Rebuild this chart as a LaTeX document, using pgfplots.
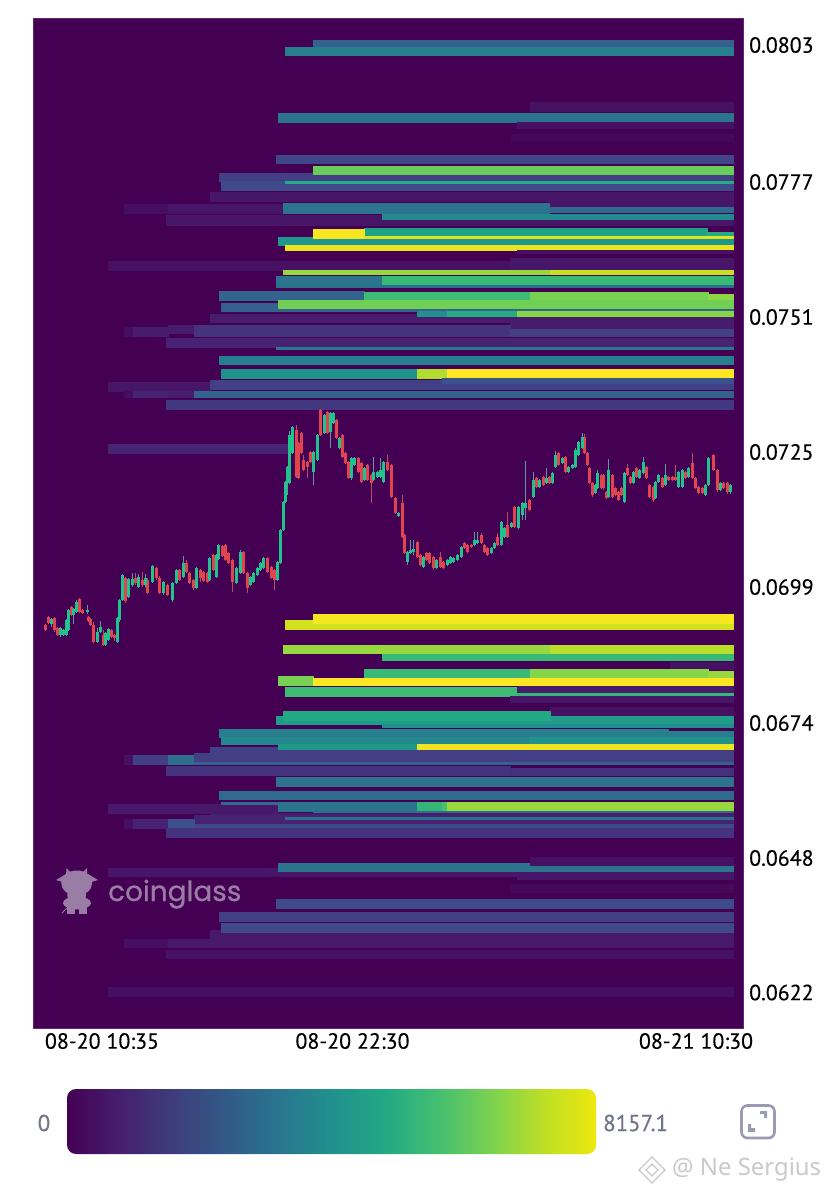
\documentclass[border=0pt]{standalone}
\usepackage{fontspec}
\setmainfont{PT Sans}
\newfontfamily\din{PT Sans}[FakeBold=0.35]
\newfontfamily\pop{Poppins}[FakeBold=0.7]
\newfontfamily\lib{Noto Sans}
\usepackage{pgfplots}
\usepackage{pgfplotstable}
\usepgfplotslibrary{colormaps}
\pgfplotsset{compat=1.18}
\definecolor{bgc}{HTML}{440154}
\definecolor{upc}{HTML}{1FC48C}
\definecolor{dnc}{HTML}{E0454F}
\definecolor{upw}{HTML}{5C9AA0}
\definecolor{dnw}{HTML}{B05060}
\definecolor{logoc}{HTML}{9A7DA4}
\definecolor{grayt}{HTML}{70748A}
\definecolor{iconc}{HTML}{9A9BB0}
\definecolor{wm}{HTML}{C9C9CE}
\pgfdeclarehorizontalshading{vir}{100bp}{color(0bp)=(bgc);color(25bp)=(bgc);
 rgb(30bp)=(0.275,0.120,0.430);rgb(35bp)=(0.240,0.240,0.480);rgb(40bp)=(0.195,0.350,0.530);
 rgb(45bp)=(0.160,0.460,0.557);rgb(50bp)=(0.129,0.565,0.553);rgb(55bp)=(0.133,0.659,0.518);
 rgb(60bp)=(0.263,0.749,0.443);rgb(65bp)=(0.478,0.820,0.318);rgb(70bp)=(0.741,0.875,0.149);
 rgb(75bp)=(0.93,0.91,0.05);rgb(100bp)=(0.93,0.91,0.05)}
% one heat cell: x from, x to, row from, row to, liquidation value
\newcommand{\hb}[5]{\addplot[patch,patch type=rectangle,shader=flat,draw=none,point meta=#5,forget plot] coordinates {(#1,#3)(#2,#3)(#2,#4)(#1,#4)};}
\pgfplotstableread{
x o c h l
45 625 630 624 631
48 617 623 616 624
51 624 619 618 627
54 618 630 617 632
57 628 635 627 636
60 635 628 627 637
63 635 630 629 636
66 635 620 619 636
68 630 610 609 631
71 607 615 606 616
73 615 609 608 624
76 612 602 600 613
79 599 612 598 613
82 610 613 609 614
87 612 610 605 614
88 617 621 616 622
90 619 625 618 626
93 625 642 622 643
97 642 632 628 643
100 632 627 621 633
103 635 645 630 646
105 645 633 632 646
108 640 629 628 641
111 630 637 629 638
114 635 638 634 641
117 642 618 617 643
119 620 600 599 622
122 600 575 574 601
125 578 601 577 603
128 597 579 578 598
132 585 579 573 587
135 578 583 573 585
138 587 577 574 588
142 580 585 572 587
145 585 578 574 587
147 580 593 578 594
152 582 566 565 583
156 568 578 567 580
159 578 593 576 594
163 593 582 581 595
167 585 595 584 596
172 600 583 582 602
176 583 570 569 584
179 570 580 569 581
183 577 563 556 578
186 563 572 560 573
189 573 583 572 584
193 580 588 579 590
196 588 568 567 589
200 570 578 569 582
203 572 581 571 582
207 573 582 572 583
209 580 558 557 581
213 555 570 554 571
216 577 555 554 578
218 559 545 544 560
222 546 556 545 557
225 545 560 544 561
228 553 563 552 564
232 560 582 559 592
236 583 568 567 584
240 573 552 550 574
243 552 573 551 574
247 573 588 572 593
250 585 577 576 586
253 582 573 572 583
257 575 568 567 576
260 570 563 562 571
263 568 558 557 569
267 558 572 557 573
271 567 578 566 579
274 570 580 569 590
277 580 562 561 581
280 563 530 529 564
283 530 502 501 531
285 502 482 481 503
287 483 467 466 495
289 483 435 431 484
292 453 427 426 454
296 430 477 425 478
298 443 478 442 479
301 433 453 432 454
303 460 470 455 471
307 462 467 461 478
310 452 462 451 463
313 472 452 451 485
317 460 435 434 461
320 410 435 409 436
324 433 415 414 434
327 412 433 411 434
330 432 413 412 448
333 423 413 412 424
336 420 438 419 439
339 448 438 437 449
342 435 457 434 458
345 453 463 452 464
348 462 478 461 479
351 478 458 457 480
354 465 458 457 466
358 458 472 457 473
361 463 482 462 483
364 480 468 467 481
367 465 480 464 481
371 475 483 474 503
373 480 472 457 481
377 477 472 471 478
380 477 470 458 478
383 482 462 461 483
387 462 470 455 471
391 465 497 464 498
395 498 513 497 514
398 516 513 512 517
402 503 537 495 538
404 535 553 534 554
407 562 552 551 565
410 553 550 540 554
413 552 549 540 555
417 542 557 541 558
420 555 565 554 566
423 567 557 556 568
426 553 560 552 561
429 553 563 552 564
433 557 568 556 570
436 568 560 559 569
440 557 567 552 568
443 562 568 561 569
447 565 560 559 566
450 563 557 556 564
453 562 558 557 563
457 560 555 554 561
461 557 547 546 558
464 543 548 542 549
467 545 552 544 553
471 545 547 544 548
474 545 540 532 546
477 543 540 532 544
481 535 543 533 544
484 545 552 544 553
487 548 555 547 556
491 553 548 547 554
494 548 543 542 549
497 537 545 533 546
501 545 522 521 546
504 537 528 527 538
507 525 537 512 538
511 527 523 522 528
514 507 527 506 528
518 528 507 506 529
522 515 503 502 520
525 508 503 461 520
529 500 510 499 511
533 497 480 472 498
536 478 487 477 488
539 487 480 479 488
543 477 485 476 486
546 483 478 468 484
549 477 483 476 484
552 483 473 472 484
555 467 455 451 468
558 453 465 452 466
562 463 458 457 464
565 457 472 456 473
568 472 467 466 473
572 468 465 464 469
575 467 450 448 468
578 455 442 441 456
582 448 437 433 449
584 437 453 434 454
587 453 465 452 466
589 468 483 467 484
592 483 495 482 497
595 493 485 484 494
597 488 473 470 489
601 475 488 474 489
603 475 488 474 490
606 492 498 491 499
608 497 470 459 498
612 475 497 474 498
615 488 495 487 496
618 492 500 491 501
621 488 495 487 496
624 502 473 472 503
627 468 475 464 476
630 477 483 476 484
633 483 472 471 484
636 468 477 467 478
639 478 470 469 479
643 473 462 457 474
646 467 478 466 479
649 485 497 484 498
653 487 500 486 502
655 498 482 481 499
658 482 475 474 483
662 478 487 477 488
665 485 475 464 486
668 477 480 476 481
672 477 480 476 481
675 477 480 465 481
678 487 472 471 488
682 487 470 469 488
685 472 478 471 479
688 477 468 467 478
692 463 478 453 479
695 478 488 477 489
698 487 493 486 494
702 488 493 487 494
705 495 485 484 496
708 485 458 457 486
713 455 470 454 471
717 470 490 469 492
720 490 483 482 491
723 483 488 482 489
727 483 492 482 494
730 492 485 484 494
}\candles
\begin{document}
\begin{tikzpicture}
\path[fill=white] (0,0) rectangle (828bp,-1195bp);
\path[use as bounding box] (0,0) rectangle (828bp,-1195bp);
\begin{axis}[
 at={(33bp,-1028bp)},anchor=south west,
 scale only axis,width=710bp,height=1010bp,
 xmin=33,xmax=743,ymin=18,ymax=1028,y dir=reverse,
 axis background/.style={fill=bgc},
 axis line style={draw=bgc!85!white,line width=0.6bp},
 colormap/viridis,point meta min=0,point meta max=8157.1,
 xtick={102,352.5,696},
 xticklabels={08-20 10:35,08-20 22:30,08-21 10:30},
 ytick={45,182,317,452,587,723,858,992.5},
 yticklabels={0.0803,0.0777,0.0751,0.0725,0.0699,0.0674,0.0648,0.0622},
 yticklabel pos=right,
 major tick length=0pt,
 xticklabel style={font=\din\fontsize{22}{24}\selectfont,anchor=center,yshift=-13bp,inner sep=0pt},
 yticklabel style={font=\din\fontsize{22}{24}\selectfont,anchor=west,xshift=6bp,inner sep=0pt},
]
% ---- upper heat rows
\hb{313}{733}{40}{48.5}{2500}
\hb{285}{733}{47.5}{55.5}{3500}
\hb{530}{733}{102.3}{111}{350}
\hb{278}{733}{113}{121.7}{3100}
\hb{517}{733}{121.7}{127.7}{350}
\hb{511}{733}{134}{141}{150}
\hb{276}{733}{155}{163.5}{1700}
\hb{219}{733}{172.7}{181}{1500}
\hb{313}{733}{165.7}{174.3}{6300}
\hb{221}{733}{181}{190}{1800}
\hb{285}{733}{181.3}{183.3}{5000}
\hb{210}{733}{192.3}{201}{450}
\hb{124}{168}{203.7}{212.7}{280}
\hb{168}{283}{203.7}{212.7}{450}
\hb{549}{733}{201.7}{207.3}{450}
\hb{549}{733}{207.3}{212}{2800}
\hb{283}{549}{203.5}{212.7}{3100}
\hb{166}{733}{215}{225.3}{450}
\hb{382}{733}{214.5}{219}{3900}
\hb{278}{733}{236.7}{245}{4300}
\hb{364}{707}{227.7}{236}{4700}
\hb{707}{733}{232}{236}{5000}
\hb{313}{364}{229.3}{238.3}{8100}
\hb{364}{733}{236}{238.3}{7800}
\hb{285}{733}{245}{249.7}{7900}
\hb{517}{733}{250}{253.3}{350}
\hb{108}{510}{261}{269.7}{350}
\hb{510}{733}{258.5}{269.7}{450}
\hb{283}{550}{269.7}{274}{6900}
\hb{550}{733}{269.7}{274}{7500}
\hb{276}{382}{276}{285}{3100}
\hb{382}{733}{276}{285}{5500}
\hb{276}{733}{285}{287}{3000}
\hb{219}{364}{291.3}{300.3}{2600}
\hb{364}{530}{291.7}{300.3}{5600}
\hb{530}{708}{291.7}{300.3}{6500}
\hb{708}{733}{294}{300.3}{6800}
\hb{221}{278}{302.7}{311}{2500}
\hb{278}{733}{300.3}{309.3}{6400}
\hb{278}{733}{309.3}{311}{2500}
\hb{210}{733}{313.7}{322}{600}
\hb{417}{447}{311}{316}{4000}
\hb{447}{517}{311}{316}{5000}
\hb{517}{733}{311}{316}{6700}
\hb{510}{733}{322}{329}{600}
\hb{124}{133}{327}{335.7}{280}
\hb{133}{168}{327}{335.7}{600}
\hb{168}{194}{325}{333}{600}
\hb{194}{510}{324.7}{335.7}{1200}
\hb{510}{733}{329}{335.7}{1500}
\hb{166}{733}{338.3}{346.7}{750}
\hb{276}{733}{346.7}{349}{3300}
\hb{219}{733}{355.7}{364.3}{3500}
\hb{221}{417}{369}{377.7}{4100}
\hb{417}{447}{369}{377.7}{7200}
\hb{447}{733}{369}{377.7}{8157}
\hb{108}{210}{382.3}{390.7}{450}
\hb{210}{733}{380}{389}{1500}
\hb{442}{733}{377.7}{383.3}{2000}
\hb{124}{133}{391}{397}{280}
\hb{133}{168}{391}{397}{800}
\hb{168}{194}{391}{397}{600}
\hb{194}{733}{391}{397}{2600}
\hb{166}{733}{400}{408.7}{1300}
\hb{108}{287}{444}{452.7}{800}
% ---- lower heat rows
\hb{285}{733}{620}{629}{7600}
\hb{313}{733}{614}{623.3}{8050}
\hb{382}{733}{653.3}{660.3}{5500}
\hb{283}{550}{644.7}{653.3}{6900}
\hb{550}{733}{644.7}{653.3}{7300}
\hb{670}{733}{662.3}{669}{350}
\hb{364}{530}{669}{677.7}{5500}
\hb{530}{708}{669}{677.7}{6700}
\hb{708}{733}{671.3}{677.7}{6900}
\hb{278}{313}{675.7}{684.7}{6500}
\hb{313}{733}{677.7}{684.7}{8157}
\hb{285}{517}{686.7}{695.7}{5600}
\hb{517}{733}{686}{693}{600}
\hb{517}{733}{693}{695.7}{5400}
\hb{510}{733}{695.7}{701.7}{450}
\hb{550}{733}{706.7}{715}{350}
\hb{276}{733}{715.7}{724.3}{4500}
\hb{283}{550}{711}{720}{4900}
\hb{382}{733}{724.3}{726.7}{4000}
\hb{219}{668}{729}{737.3}{3500}
\hb{668}{733}{731}{737.3}{3500}
\hb{221}{530}{737.3}{744.3}{3800}
\hb{530}{733}{737.3}{744.3}{4200}
\hb{210}{733}{746.7}{755.3}{1500}
\hb{278}{417}{744.3}{748.7}{4400}
\hb{417}{733}{744.3}{748.7}{8000}
\hb{124}{133}{755.3}{763.7}{350}
\hb{133}{168}{755.3}{763.7}{1500}
\hb{168}{194}{755.3}{763.7}{3000}
\hb{194}{733}{753.3}{762.3}{1500}
\hb{194}{733}{762.3}{763.7}{2500}
\hb{166}{510}{766}{775}{1200}
\hb{510}{733}{768}{775}{1100}
\hb{276}{733}{777.3}{786}{3100}
\hb{219}{733}{790.7}{799.3}{2800}
\hb{108}{278}{804}{812.7}{500}
\hb{221}{278}{801.7}{803.7}{2800}
\hb{278}{417}{801.7}{810.7}{3100}
\hb{417}{442}{801.7}{810.7}{5400}
\hb{442}{447}{801.7}{810.7}{5800}
\hb{447}{733}{801.7}{810.7}{6900}
\hb{313}{733}{810.7}{812.3}{2900}
\hb{210}{733}{812.7}{817}{600}
\hb{194}{733}{815}{823.7}{750}
\hb{285}{733}{817}{819}{3000}
\hb{124}{133}{819.3}{827.7}{280}
\hb{133}{168}{819.3}{827.7}{750}
\hb{168}{194}{819.3}{827.7}{2000}
\hb{194}{733}{823.7}{827.7}{1800}
\hb{166}{733}{828.3}{836.7}{1200}
\hb{108}{278}{868.3}{876}{450}
\hb{278}{530}{863.3}{872}{3100}
\hb{530}{733}{857.3}{865.7}{350}
\hb{530}{733}{865.7}{872}{3100}
\hb{278}{517}{872}{876}{450}
\hb{517}{733}{872}{879}{450}
\hb{510}{733}{884}{892}{150}
\hb{276}{733}{899}{907.7}{1800}
\hb{219}{733}{912}{920.7}{1500}
\hb{210}{733}{930}{938.7}{500}
\hb{221}{733}{923.3}{932}{1800}
\hb{124}{168}{938.7}{947.3}{280}
\hb{168}{733}{938.7}{947.3}{500}
\hb{166}{733}{950}{958.3}{350}
\hb{108}{733}{987}{995.7}{300}
% ---- candles
\addplot[draw=none,forget plot,error bars/.cd,y dir=both,y explicit,error mark=none,
  error bar style={line width=0.9bp,color=upw}]
  table[x expr={\thisrow{c}<\thisrow{o} ? \thisrow{x} : nan},y expr={(\thisrow{h}+\thisrow{l})/2},y error expr={(\thisrow{l}-\thisrow{h})/2}] {\candles};
\addplot[draw=none,forget plot,error bars/.cd,y dir=both,y explicit,error mark=none,
  error bar style={line width=0.9bp,color=dnw}]
  table[x expr={\thisrow{c}>\thisrow{o} ? \thisrow{x} : nan},y expr={(\thisrow{h}+\thisrow{l})/2},y error expr={(\thisrow{l}-\thisrow{h})/2}] {\candles};
\addplot[draw=none,forget plot,error bars/.cd,y dir=both,y explicit,error mark=none,
  error bar style={line width=3bp,color=dnc}]
  table[x expr={\thisrow{c}>\thisrow{o} ? \thisrow{x} : nan},y expr={(\thisrow{o}+\thisrow{c})/2},y error expr={abs(\thisrow{o}-\thisrow{c})/2}] {\candles};
\addplot[draw=none,forget plot,error bars/.cd,y dir=both,y explicit,error mark=none,
  error bar style={line width=3bp,color=upc}]
  table[x expr={\thisrow{c}<\thisrow{o} ? \thisrow{x} : nan},y expr={(\thisrow{o}+\thisrow{c})/2},y error expr={abs(\thisrow{o}-\thisrow{c})/2}] {\candles};
\end{axis}
\begin{scope}[x=1bp,y=-1bp]
% logo
\fill[logoc] (76.7,883) ellipse [x radius=15.5,y radius=12.5];
\fill[logoc] (56,880) -- (66,874) -- (66,883) -- cycle;
\fill[logoc] (98,880) -- (88,874) -- (88,883) -- cycle;
\fill[logoc] (66,876) -- (66.5,868) -- (71,873) -- cycle;
\fill[logoc] (87,876) -- (87,868) -- (82,873) -- cycle;
\fill[logoc] (76.7,895) ellipse [x radius=9.5,y radius=7];
\fill[logoc] (77,903) ellipse [x radius=14,y radius=6.5];
\fill[logoc] (67,905) rectangle (75,913.5);
\fill[logoc] (79,905) rectangle (87,913.5);
\draw[logoc,line width=0.8bp] (67,908) -- (62,913);
\node[font=\pop\fontsize{28}{30}\selectfont,text=logoc,anchor=base west,inner sep=0pt] at (108,901) {coinglass};
% colour scale
\path[shading=vir,rounded corners=9bp] (67,1089) rectangle (596,1154);
\node[font=\din\fontsize{23}{25}\selectfont,text=grayt,anchor=center,inner sep=0pt] at (44,1123) {0};
\node[font=\din\fontsize{23}{25}\selectfont,text=grayt,anchor=west,inner sep=0pt] at (603,1123) {8157.1};
% expand icon
\draw[iconc,line width=2.6bp,rounded corners=6bp] (741.5,1105.5) rectangle (774.5,1138);
\fill[iconc] (760,1111) -- (767,1111) -- (767,1118) -- (764,1118) -- (764,1114) -- (760,1114) -- cycle;
\fill[iconc] (748,1124) -- (751,1124) -- (751,1128) -- (755,1128) -- (755,1132) -- (748,1132) -- cycle;
% source mark
\begin{scope}[wm,line width=1.2bp]
\draw (652,1157) -- (665,1170) -- (652,1183) -- (639,1170) -- cycle;
\draw (646,1170) -- (652,1164) -- (658,1170) -- (652,1176) -- cycle;
\end{scope}
\node[font=\lib\fontsize{24}{26}\selectfont,text=wm,anchor=west,inner sep=0pt] at (672,1170) {@ Ne Sergius};
\end{scope}
\end{tikzpicture}
\end{document}
